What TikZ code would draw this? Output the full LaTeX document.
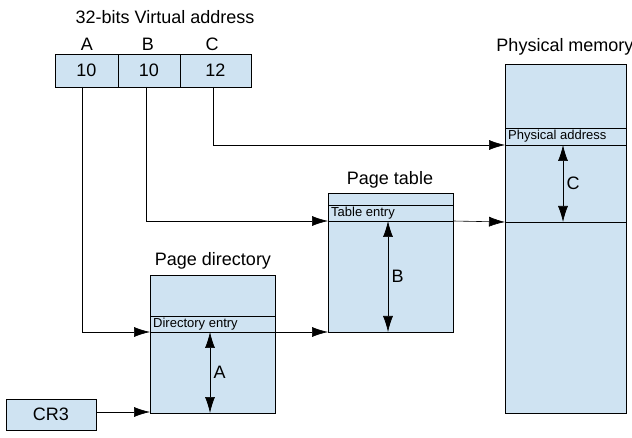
\documentclass[tikz,border=0pt]{standalone}
\usepackage{fontspec}
\setmainfont{Liberation Sans}
\usetikzlibrary{arrows.meta}
\definecolor{boxblue}{HTML}{CFE3F2}
\tikzset{
	box/.style={draw, fill=boxblue, line width=0.5pt},
	title/.style={font=\fontsize{18}{20}\selectfont},
	small/.style={font=\fontsize{13}{14}\selectfont, anchor=west, inner sep=1pt},
	link/.style={-{Latex[length=16pt,width=10pt]}, line width=0.6pt},
	both/.style={{Latex[length=16pt,width=10pt]}-{Latex[length=16pt,width=10pt]}, line width=0.7pt}
}
\begin{document}
\begin{tikzpicture}[x=1pt,y=-1pt]
		\useasboundingbox (0,0) rectangle (632,438);

		% Virtuelle Adresse
		\node[title] (va) at (165,17) {32-bits Virtual address};
		\node[box, minimum width=63pt, minimum height=33pt, title] (fa) at (86.5,70.5) {10};
		\node[box, minimum width=62pt, minimum height=33pt, title] (fb) at (149,70.5) {10};
		\node[box, minimum width=71pt, minimum height=33pt, title] (fc) at (215.5,70.5) {12};
		\node[title] (la) at (87,44) {A};
		\node[title] (lb) at (148,44) {B};
		\node[title] (lc) at (212,44) {C};

		% Tabellen
		\node[box, minimum width=121pt, minimum height=349pt] (pm) at (565.5,238.5) {};
		\node[title] (pmt) at (565,47) {Physical memory};
		\node[box, minimum width=125pt, minimum height=139pt] (pt) at (390.5,262.5) {};
		\node[title] (ptt) at (390,180) {Page table};
		\node[box, minimum width=125pt, minimum height=138pt] (pd) at (212.5,344) {};
		\node[title] (pdt) at (213,261) {Page directory};
		\node[box, minimum width=90pt, minimum height=31pt, title] (cr) at (51,414.5) {CR3};

		% Eintraege
		\draw (505,128) -- (626,128) (505,145) -- (626,145) (505,222) -- (626,222);
		\node[small] (pa) at (507,136) {Physical address};
		\draw (328,205) -- (453,205) (328,221) -- (453,221);
		\node[small] (te) at (330,213) {Table entry};
		\draw (150,316) -- (275,316) (150,332) -- (275,332);
		\node[small] (de) at (152,324) {Directory entry};

		\coordinate (pa1) at (505,145);
		\coordinate (pm1) at (505,222);
		\coordinate (te1) at (328,221);
		\coordinate (te2) at (453,221);
		\coordinate (de1) at (150,332);
		\coordinate (de2) at (275,332);
		\coordinate (de3) at (328,332);
		\coordinate (cr1) at (150,412);

		% Pfeile
		\draw[link] (82,87) |- (de1);
		\draw[link] (146,87) |- (te1);
		\draw[link] (213,87) |- (pa1);
		\draw[link] (de2) -- (de3);
		\draw[link] (te2) -- (pm1);
		\draw[link] (cr.east |- cr1) -- (cr1);

		% Offsets
		\draw[both] (210,332) -- (210,413) node[midway, right, title] {A};
		\draw[both] (388,221) -- (388,332) node[midway, right, title] {B};
		\draw[both] (563,145) -- (563,222) node[midway, right, title] {C};
	\end{tikzpicture}
\end{document}
